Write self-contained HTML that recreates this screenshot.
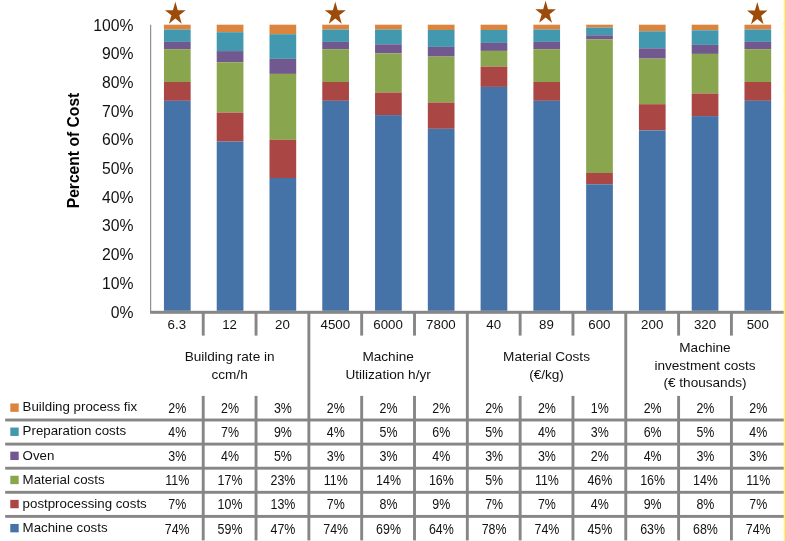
<!DOCTYPE html>
<html><head><meta charset="utf-8"><title>Percent of Cost</title>
<style>
html,body{margin:0;padding:0;background:#fff;}
body{width:785px;height:541px;overflow:hidden;}
svg{display:block;font-family:"Liberation Sans",sans-serif;fill:#111;}
.t{font-size:13.6px;text-anchor:middle;}
.y{font-size:16.5px;text-anchor:end;}
.k{font-size:13.3px;}
.l{font-size:13.3px;}
.v{font-size:13.8px;text-anchor:middle;}
</style></head><body>
<svg width="785" height="541" viewBox="0 0 785 541">
<rect width="785" height="541" fill="#fff"/>
<g style="filter:blur(0.4px)">
<rect x="163.95" y="24.70" width="26.7" height="4.90" fill="#DB843D"/>
<rect x="163.95" y="29.60" width="26.7" height="12.30" fill="#4198AF"/>
<rect x="163.95" y="41.90" width="26.7" height="7.30" fill="#71588F"/>
<rect x="163.95" y="49.20" width="26.7" height="32.80" fill="#89A54E"/>
<rect x="163.95" y="82.00" width="26.7" height="18.80" fill="#AA4643"/>
<rect x="163.95" y="100.80" width="26.7" height="210.00" fill="#4572A7"/>
<rect x="216.72" y="24.70" width="26.7" height="7.50" fill="#DB843D"/>
<rect x="216.72" y="32.20" width="26.7" height="18.90" fill="#4198AF"/>
<rect x="216.72" y="51.10" width="26.7" height="11.20" fill="#71588F"/>
<rect x="216.72" y="62.30" width="26.7" height="50.30" fill="#89A54E"/>
<rect x="216.72" y="112.60" width="26.7" height="29.00" fill="#AA4643"/>
<rect x="216.72" y="141.60" width="26.7" height="169.20" fill="#4572A7"/>
<rect x="269.50" y="24.70" width="26.7" height="9.50" fill="#DB843D"/>
<rect x="269.50" y="34.20" width="26.7" height="24.60" fill="#4198AF"/>
<rect x="269.50" y="58.80" width="26.7" height="15.10" fill="#71588F"/>
<rect x="269.50" y="73.90" width="26.7" height="65.90" fill="#89A54E"/>
<rect x="269.50" y="139.80" width="26.7" height="38.20" fill="#AA4643"/>
<rect x="269.50" y="178.00" width="26.7" height="132.80" fill="#4572A7"/>
<rect x="322.27" y="24.70" width="26.7" height="4.90" fill="#DB843D"/>
<rect x="322.27" y="29.60" width="26.7" height="12.30" fill="#4198AF"/>
<rect x="322.27" y="41.90" width="26.7" height="7.30" fill="#71588F"/>
<rect x="322.27" y="49.20" width="26.7" height="32.80" fill="#89A54E"/>
<rect x="322.27" y="82.00" width="26.7" height="18.80" fill="#AA4643"/>
<rect x="322.27" y="100.80" width="26.7" height="210.00" fill="#4572A7"/>
<rect x="375.05" y="24.70" width="26.7" height="4.90" fill="#DB843D"/>
<rect x="375.05" y="29.60" width="26.7" height="14.70" fill="#4198AF"/>
<rect x="375.05" y="44.30" width="26.7" height="9.00" fill="#71588F"/>
<rect x="375.05" y="53.30" width="26.7" height="39.20" fill="#89A54E"/>
<rect x="375.05" y="92.50" width="26.7" height="22.60" fill="#AA4643"/>
<rect x="375.05" y="115.10" width="26.7" height="195.70" fill="#4572A7"/>
<rect x="427.82" y="24.70" width="26.7" height="5.30" fill="#DB843D"/>
<rect x="427.82" y="30.00" width="26.7" height="16.90" fill="#4198AF"/>
<rect x="427.82" y="46.90" width="26.7" height="9.70" fill="#71588F"/>
<rect x="427.82" y="56.60" width="26.7" height="45.90" fill="#89A54E"/>
<rect x="427.82" y="102.50" width="26.7" height="26.30" fill="#AA4643"/>
<rect x="427.82" y="128.80" width="26.7" height="182.00" fill="#4572A7"/>
<rect x="480.60" y="24.70" width="26.7" height="5.30" fill="#DB843D"/>
<rect x="480.60" y="30.00" width="26.7" height="12.90" fill="#4198AF"/>
<rect x="480.60" y="42.90" width="26.7" height="8.00" fill="#71588F"/>
<rect x="480.60" y="50.90" width="26.7" height="15.70" fill="#89A54E"/>
<rect x="480.60" y="66.60" width="26.7" height="20.30" fill="#AA4643"/>
<rect x="480.60" y="86.90" width="26.7" height="223.90" fill="#4572A7"/>
<rect x="533.38" y="24.70" width="26.7" height="4.90" fill="#DB843D"/>
<rect x="533.38" y="29.60" width="26.7" height="12.30" fill="#4198AF"/>
<rect x="533.38" y="41.90" width="26.7" height="7.30" fill="#71588F"/>
<rect x="533.38" y="49.20" width="26.7" height="32.80" fill="#89A54E"/>
<rect x="533.38" y="82.00" width="26.7" height="18.80" fill="#AA4643"/>
<rect x="533.38" y="100.80" width="26.7" height="210.00" fill="#4572A7"/>
<rect x="586.15" y="24.70" width="26.7" height="2.90" fill="#DB843D"/>
<rect x="586.15" y="27.60" width="26.7" height="7.70" fill="#4198AF"/>
<rect x="586.15" y="35.30" width="26.7" height="4.00" fill="#71588F"/>
<rect x="586.15" y="39.30" width="26.7" height="133.70" fill="#89A54E"/>
<rect x="586.15" y="173.00" width="26.7" height="11.30" fill="#AA4643"/>
<rect x="586.15" y="184.30" width="26.7" height="126.50" fill="#4572A7"/>
<rect x="638.92" y="24.70" width="26.7" height="6.60" fill="#DB843D"/>
<rect x="638.92" y="31.30" width="26.7" height="17.00" fill="#4198AF"/>
<rect x="638.92" y="48.30" width="26.7" height="10.30" fill="#71588F"/>
<rect x="638.92" y="58.60" width="26.7" height="45.60" fill="#89A54E"/>
<rect x="638.92" y="104.20" width="26.7" height="26.20" fill="#AA4643"/>
<rect x="638.92" y="130.40" width="26.7" height="180.40" fill="#4572A7"/>
<rect x="691.70" y="24.70" width="26.7" height="5.60" fill="#DB843D"/>
<rect x="691.70" y="30.30" width="26.7" height="14.60" fill="#4198AF"/>
<rect x="691.70" y="44.90" width="26.7" height="9.00" fill="#71588F"/>
<rect x="691.70" y="53.90" width="26.7" height="39.60" fill="#89A54E"/>
<rect x="691.70" y="93.50" width="26.7" height="22.60" fill="#AA4643"/>
<rect x="691.70" y="116.10" width="26.7" height="194.70" fill="#4572A7"/>
<rect x="744.47" y="24.70" width="26.7" height="4.90" fill="#DB843D"/>
<rect x="744.47" y="29.60" width="26.7" height="12.30" fill="#4198AF"/>
<rect x="744.47" y="41.90" width="26.7" height="7.30" fill="#71588F"/>
<rect x="744.47" y="49.20" width="26.7" height="32.80" fill="#89A54E"/>
<rect x="744.47" y="82.00" width="26.7" height="18.80" fill="#AA4643"/>
<rect x="744.47" y="100.80" width="26.7" height="210.00" fill="#4572A7"/>
<rect x="150.10" y="24.7" width="1.1" height="287.10" fill="#868686"/>
<rect x="150.10" y="310.8" width="633.80" height="3" fill="#868686"/>
<text class="y" transform="translate(133.5,317.5) scale(0.953,1)">0%</text>
<text class="y" transform="translate(133.5,288.8) scale(0.953,1)">10%</text>
<text class="y" transform="translate(133.5,260.1) scale(0.953,1)">20%</text>
<text class="y" transform="translate(133.5,231.4) scale(0.953,1)">30%</text>
<text class="y" transform="translate(133.5,202.7) scale(0.953,1)">40%</text>
<text class="y" transform="translate(133.5,174.0) scale(0.953,1)">50%</text>
<text class="y" transform="translate(133.5,145.3) scale(0.953,1)">60%</text>
<text class="y" transform="translate(133.5,116.6) scale(0.953,1)">70%</text>
<text class="y" transform="translate(133.5,87.9) scale(0.953,1)">80%</text>
<text class="y" transform="translate(133.5,59.2) scale(0.953,1)">90%</text>
<text class="y" transform="translate(133.5,30.5) scale(0.953,1)">100%</text>
<text transform="translate(79,150.5) rotate(-90)" text-anchor="middle" font-size="15.65" font-weight="bold" fill="#000">Percent of Cost</text>
<text class="t k" x="176.8" y="329.3">6.3</text>
<text class="t k" x="229.6" y="329.3">12</text>
<text class="t k" x="282.5" y="329.3">20</text>
<text class="t k" x="335.3" y="329.3">4500</text>
<text class="t k" x="388.1" y="329.3">6000</text>
<text class="t k" x="440.9" y="329.3">7800</text>
<text class="t k" x="493.7" y="329.3">40</text>
<text class="t k" x="546.5" y="329.3">89</text>
<text class="t k" x="599.4" y="329.3">600</text>
<text class="t k" x="652.2" y="329.3">200</text>
<text class="t k" x="705.0" y="329.3">320</text>
<text class="t k" x="757.8" y="329.3">500</text>
<rect x="201.77" y="312" width="2.9" height="23.6" fill="#868686"/>
<rect x="201.77" y="395.9" width="2.9" height="146" fill="#868686"/>
<rect x="254.59" y="312" width="2.9" height="23.6" fill="#868686"/>
<rect x="254.59" y="395.9" width="2.9" height="146" fill="#868686"/>
<rect x="307.41" y="312" width="2.9" height="229" fill="#868686"/>
<rect x="360.23" y="312" width="2.9" height="23.6" fill="#868686"/>
<rect x="360.23" y="395.9" width="2.9" height="146" fill="#868686"/>
<rect x="413.05" y="312" width="2.9" height="23.6" fill="#868686"/>
<rect x="413.05" y="395.9" width="2.9" height="146" fill="#868686"/>
<rect x="465.87" y="312" width="2.9" height="229" fill="#868686"/>
<rect x="518.69" y="312" width="2.9" height="23.6" fill="#868686"/>
<rect x="518.69" y="395.9" width="2.9" height="146" fill="#868686"/>
<rect x="571.51" y="312" width="2.9" height="23.6" fill="#868686"/>
<rect x="571.51" y="395.9" width="2.9" height="146" fill="#868686"/>
<rect x="624.33" y="312" width="2.9" height="229" fill="#868686"/>
<rect x="677.15" y="312" width="2.9" height="23.6" fill="#868686"/>
<rect x="677.15" y="395.9" width="2.9" height="146" fill="#868686"/>
<rect x="729.97" y="312" width="2.9" height="23.6" fill="#868686"/>
<rect x="729.97" y="395.9" width="2.9" height="146" fill="#868686"/>
<text class="t" x="229.6" y="361.3">Building rate in</text>
<text class="t" x="229.6" y="379.3">ccm/h</text>
<text class="t" x="388.1" y="361.3">Machine</text>
<text class="t" x="388.1" y="379.3">Utilization h/yr</text>
<text class="t" x="546.5" y="361.3">Material Costs</text>
<text class="t" x="546.5" y="379.3">(€/kg)</text>
<text class="t" x="705.0" y="351.7">Machine</text>
<text class="t" x="705.0" y="370.3">investment costs</text>
<text class="t" x="705.0" y="387.3">(€ thousands)</text>
<rect x="5.2" y="418.55" width="778.8" height="2.9" fill="#868686"/>
<rect x="5.2" y="442.65" width="778.8" height="2.9" fill="#868686"/>
<rect x="5.2" y="466.75" width="778.8" height="2.9" fill="#868686"/>
<rect x="5.2" y="490.85" width="778.8" height="2.9" fill="#868686"/>
<rect x="5.2" y="514.95" width="778.8" height="2.9" fill="#868686"/>
<rect x="10.3" y="403.45" width="8.4" height="8.4" fill="#DB843D"/>
<text class="l" x="22.6" y="411.3">Building process fix</text>
<text class="v" transform="translate(177.2,412.9) scale(0.9,1)">2%</text>
<text class="v" transform="translate(230.0,412.9) scale(0.9,1)">2%</text>
<text class="v" transform="translate(282.9,412.9) scale(0.9,1)">3%</text>
<text class="v" transform="translate(335.7,412.9) scale(0.9,1)">2%</text>
<text class="v" transform="translate(388.5,412.9) scale(0.9,1)">2%</text>
<text class="v" transform="translate(441.3,412.9) scale(0.9,1)">2%</text>
<text class="v" transform="translate(494.1,412.9) scale(0.9,1)">2%</text>
<text class="v" transform="translate(546.9,412.9) scale(0.9,1)">2%</text>
<text class="v" transform="translate(599.8,412.9) scale(0.9,1)">1%</text>
<text class="v" transform="translate(652.6,412.9) scale(0.9,1)">2%</text>
<text class="v" transform="translate(705.4,412.9) scale(0.9,1)">2%</text>
<text class="v" transform="translate(758.2,412.9) scale(0.9,1)">2%</text>
<rect x="10.3" y="427.55" width="8.4" height="8.4" fill="#4198AF"/>
<text class="l" x="22.6" y="435.4">Preparation costs</text>
<text class="v" transform="translate(177.2,437.0) scale(0.9,1)">4%</text>
<text class="v" transform="translate(230.0,437.0) scale(0.9,1)">7%</text>
<text class="v" transform="translate(282.9,437.0) scale(0.9,1)">9%</text>
<text class="v" transform="translate(335.7,437.0) scale(0.9,1)">4%</text>
<text class="v" transform="translate(388.5,437.0) scale(0.9,1)">5%</text>
<text class="v" transform="translate(441.3,437.0) scale(0.9,1)">6%</text>
<text class="v" transform="translate(494.1,437.0) scale(0.9,1)">5%</text>
<text class="v" transform="translate(546.9,437.0) scale(0.9,1)">4%</text>
<text class="v" transform="translate(599.8,437.0) scale(0.9,1)">3%</text>
<text class="v" transform="translate(652.6,437.0) scale(0.9,1)">6%</text>
<text class="v" transform="translate(705.4,437.0) scale(0.9,1)">5%</text>
<text class="v" transform="translate(758.2,437.0) scale(0.9,1)">4%</text>
<rect x="10.3" y="451.65" width="8.4" height="8.4" fill="#71588F"/>
<text class="l" x="22.6" y="459.5">Oven</text>
<text class="v" transform="translate(177.2,461.1) scale(0.9,1)">3%</text>
<text class="v" transform="translate(230.0,461.1) scale(0.9,1)">4%</text>
<text class="v" transform="translate(282.9,461.1) scale(0.9,1)">5%</text>
<text class="v" transform="translate(335.7,461.1) scale(0.9,1)">3%</text>
<text class="v" transform="translate(388.5,461.1) scale(0.9,1)">3%</text>
<text class="v" transform="translate(441.3,461.1) scale(0.9,1)">4%</text>
<text class="v" transform="translate(494.1,461.1) scale(0.9,1)">3%</text>
<text class="v" transform="translate(546.9,461.1) scale(0.9,1)">3%</text>
<text class="v" transform="translate(599.8,461.1) scale(0.9,1)">2%</text>
<text class="v" transform="translate(652.6,461.1) scale(0.9,1)">4%</text>
<text class="v" transform="translate(705.4,461.1) scale(0.9,1)">3%</text>
<text class="v" transform="translate(758.2,461.1) scale(0.9,1)">3%</text>
<rect x="10.3" y="475.75" width="8.4" height="8.4" fill="#89A54E"/>
<text class="l" x="22.6" y="483.6">Material costs</text>
<text class="v" transform="translate(177.2,485.2) scale(0.9,1)">11%</text>
<text class="v" transform="translate(230.0,485.2) scale(0.9,1)">17%</text>
<text class="v" transform="translate(282.9,485.2) scale(0.9,1)">23%</text>
<text class="v" transform="translate(335.7,485.2) scale(0.9,1)">11%</text>
<text class="v" transform="translate(388.5,485.2) scale(0.9,1)">14%</text>
<text class="v" transform="translate(441.3,485.2) scale(0.9,1)">16%</text>
<text class="v" transform="translate(494.1,485.2) scale(0.9,1)">5%</text>
<text class="v" transform="translate(546.9,485.2) scale(0.9,1)">11%</text>
<text class="v" transform="translate(599.8,485.2) scale(0.9,1)">46%</text>
<text class="v" transform="translate(652.6,485.2) scale(0.9,1)">16%</text>
<text class="v" transform="translate(705.4,485.2) scale(0.9,1)">14%</text>
<text class="v" transform="translate(758.2,485.2) scale(0.9,1)">11%</text>
<rect x="10.3" y="499.85" width="8.4" height="8.4" fill="#AA4643"/>
<text class="l" x="22.6" y="507.7">postprocessing costs</text>
<text class="v" transform="translate(177.2,509.3) scale(0.9,1)">7%</text>
<text class="v" transform="translate(230.0,509.3) scale(0.9,1)">10%</text>
<text class="v" transform="translate(282.9,509.3) scale(0.9,1)">13%</text>
<text class="v" transform="translate(335.7,509.3) scale(0.9,1)">7%</text>
<text class="v" transform="translate(388.5,509.3) scale(0.9,1)">8%</text>
<text class="v" transform="translate(441.3,509.3) scale(0.9,1)">9%</text>
<text class="v" transform="translate(494.1,509.3) scale(0.9,1)">7%</text>
<text class="v" transform="translate(546.9,509.3) scale(0.9,1)">7%</text>
<text class="v" transform="translate(599.8,509.3) scale(0.9,1)">4%</text>
<text class="v" transform="translate(652.6,509.3) scale(0.9,1)">9%</text>
<text class="v" transform="translate(705.4,509.3) scale(0.9,1)">8%</text>
<text class="v" transform="translate(758.2,509.3) scale(0.9,1)">7%</text>
<rect x="10.3" y="523.95" width="8.4" height="8.4" fill="#4572A7"/>
<text class="l" x="22.6" y="531.9">Machine costs</text>
<text class="v" transform="translate(177.2,533.5) scale(0.9,1)">74%</text>
<text class="v" transform="translate(230.0,533.5) scale(0.9,1)">59%</text>
<text class="v" transform="translate(282.9,533.5) scale(0.9,1)">47%</text>
<text class="v" transform="translate(335.7,533.5) scale(0.9,1)">74%</text>
<text class="v" transform="translate(388.5,533.5) scale(0.9,1)">69%</text>
<text class="v" transform="translate(441.3,533.5) scale(0.9,1)">64%</text>
<text class="v" transform="translate(494.1,533.5) scale(0.9,1)">78%</text>
<text class="v" transform="translate(546.9,533.5) scale(0.9,1)">74%</text>
<text class="v" transform="translate(599.8,533.5) scale(0.9,1)">45%</text>
<text class="v" transform="translate(652.6,533.5) scale(0.9,1)">63%</text>
<text class="v" transform="translate(705.4,533.5) scale(0.9,1)">68%</text>
<text class="v" transform="translate(758.2,533.5) scale(0.9,1)">74%</text>
<polygon points="175.35,1.80 177.79,10.16 185.70,10.17 179.30,15.34 181.75,23.70 175.35,18.53 168.95,23.70 171.40,15.34 165.00,10.17 172.91,10.16" fill="#9C4B0A"/>
<polygon points="335.30,1.80 337.78,10.16 345.80,10.17 339.31,15.34 341.79,23.70 335.30,18.53 328.81,23.70 331.29,15.34 324.80,10.17 332.82,10.16" fill="#9C4B0A"/>
<polygon points="545.60,0.70 548.04,9.14 555.95,9.14 549.55,14.36 552.00,22.80 545.60,17.58 539.20,22.80 541.65,14.36 535.25,9.14 543.16,9.14" fill="#9C4B0A"/>
<polygon points="757.30,2.00 759.71,10.48 767.50,10.48 761.20,15.72 763.60,24.20 757.30,18.96 751.00,24.20 753.40,15.72 747.10,10.48 754.89,10.48" fill="#9C4B0A"/>
</g>
<rect x="783.7" y="0" width="1.3" height="541" fill="#FFFF48"/>
<rect x="12" y="540.4" width="772" height="0.6" fill="#FFFDE8"/>
</svg>
</body></html>
